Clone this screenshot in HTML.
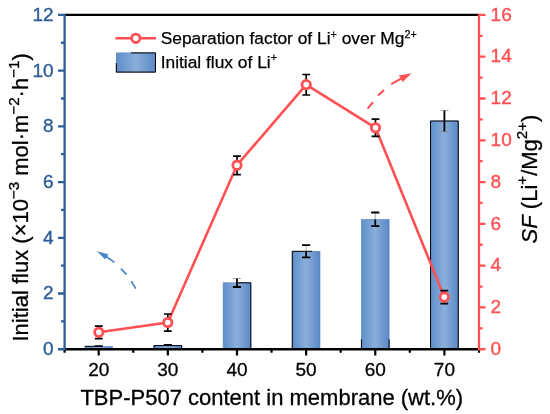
<!DOCTYPE html><html><head><meta charset="utf-8"><title>chart</title><style>html,body{margin:0;padding:0;background:#fff}svg{display:block}text{font-family:"Liberation Sans",Arial,sans-serif}</style></head><body>
<svg width="550" height="414" viewBox="0 0 550 414">
<defs><linearGradient id="g" x1="0" x2="1" y1="0" y2="0"><stop offset="0" stop-color="#5e8fca"/><stop offset="0.5" stop-color="#8aaed9"/><stop offset="1" stop-color="#5a89c6"/></linearGradient></defs>
<rect width="550" height="414" fill="#fff"/>
<rect x="84.85" y="346.60" width="27.7" height="2.65" fill="url(#g)" stroke="#4f7fbd" stroke-width="0.6"/>
<rect x="153.99" y="345.60" width="27.7" height="3.65" fill="url(#g)" stroke="#4f7fbd" stroke-width="0.6"/>
<rect x="223.13" y="282.80" width="27.7" height="66.45" fill="url(#g)" stroke="#4f7fbd" stroke-width="0.6"/>
<rect x="292.27" y="251.30" width="27.7" height="97.95" fill="url(#g)" stroke="#4f7fbd" stroke-width="0.6"/>
<rect x="361.41" y="219.50" width="27.7" height="129.75" fill="url(#g)" stroke="#4f7fbd" stroke-width="0.6"/>
<rect x="430.55" y="121.00" width="27.7" height="228.25" fill="url(#g)" stroke="#4f7fbd" stroke-width="0.6"/>
<path d="M84.85 346.3H94.70M153.99 349.25V345.6H181.69V349.25M237.98 282.8H250.83V349.25M292.27 349.25V251.3H312.12M389.11 349.25v-10M361.41 349.25v-10M430.55 349.25V121.0H458.25V349.25" stroke="#000" stroke-width="1" fill="none"/>
<path d="M232.88 278.50h8.2M306.12 245.2V251.3M375.26 212.5V219.5M440.30 110.40h8.2M440.30 131.50h8.2" stroke="#8a8a8a" stroke-width="0.7" fill="none"/>
<path d="M94.60 346.20h8.2M163.74 345.00h8.2M236.98 278.5V287M232.88 287.00h8.2M302.02 245.20h8.2M306.12 251.3V257.4M302.02 257.40h8.2M371.16 212.50h8.2M375.26 219.5V226.2M371.16 226.20h8.2M444.40 110.4V131.5" stroke="#000" stroke-width="1.8" fill="none"/>
<path d="M64.60 14.90H479.00M64.60 349.25H479.00" stroke="#000" stroke-width="2.3"/>
<path d="M98.70 349.25v6.3M167.84 349.25v6.3M236.98 349.25v6.3M306.12 349.25v6.3M375.26 349.25v6.3M444.40 349.25v6.3M133.27 349.25v3.4M202.41 349.25v3.4M271.55 349.25v3.4M340.69 349.25v3.4M409.83 349.25v3.4M64.60 349.25v3.4M479.00 349.25v3.4" stroke="#000" stroke-width="2.2" fill="none"/>
<path d="M64.60 13.75V350.40M64.60 349.25h-6.6M64.60 293.52h-6.6M64.60 237.80h-6.6M64.60 182.07h-6.6M64.60 126.35h-6.6M64.60 70.62h-6.6M64.60 14.90h-6.6M64.60 321.39h-3.6M64.60 265.66h-3.6M64.60 209.94h-3.6M64.60 154.21h-3.6M64.60 98.49h-3.6M64.60 42.76h-3.6" stroke="#2f5f97" stroke-width="2.3" fill="none"/>
<path d="M479.00 13.75V350.40M479.00 349.25h6.5M479.00 307.46h6.5M479.00 265.66h6.5M479.00 223.87h6.5M479.00 182.07h6.5M479.00 140.28h6.5M479.00 98.49h6.5M479.00 56.69h6.5M479.00 14.90h6.5M479.00 328.35h3.6M479.00 286.56h3.6M479.00 244.77h3.6M479.00 202.97h3.6M479.00 161.18h3.6M479.00 119.38h3.6M479.00 77.59h3.6M479.00 35.80h3.6" stroke="#ff5053" stroke-width="2.3" fill="none"/>
<text x="53.6" y="355.15" font-size="19" fill="#2f5f97" stroke="#2f5f97" stroke-width="0.4" text-anchor="end">0</text>
<text x="53.6" y="299.42" font-size="19" fill="#2f5f97" stroke="#2f5f97" stroke-width="0.4" text-anchor="end">2</text>
<text x="53.6" y="243.70" font-size="19" fill="#2f5f97" stroke="#2f5f97" stroke-width="0.4" text-anchor="end">4</text>
<text x="53.6" y="187.97" font-size="19" fill="#2f5f97" stroke="#2f5f97" stroke-width="0.4" text-anchor="end">6</text>
<text x="53.6" y="132.25" font-size="19" fill="#2f5f97" stroke="#2f5f97" stroke-width="0.4" text-anchor="end">8</text>
<text x="53.6" y="76.52" font-size="19" fill="#2f5f97" stroke="#2f5f97" stroke-width="0.4" text-anchor="end">10</text>
<text x="53.6" y="20.80" font-size="19" fill="#2f5f97" stroke="#2f5f97" stroke-width="0.4" text-anchor="end">12</text>
<text x="490.6" y="355.05" font-size="19" fill="#ff5053" stroke="#ff5053" stroke-width="0.4">0</text>
<text x="490.6" y="313.26" font-size="19" fill="#ff5053" stroke="#ff5053" stroke-width="0.4">2</text>
<text x="490.6" y="271.46" font-size="19" fill="#ff5053" stroke="#ff5053" stroke-width="0.4">4</text>
<text x="490.6" y="229.67" font-size="19" fill="#ff5053" stroke="#ff5053" stroke-width="0.4">6</text>
<text x="490.6" y="187.88" font-size="19" fill="#ff5053" stroke="#ff5053" stroke-width="0.4">8</text>
<text x="490.6" y="146.08" font-size="19" fill="#ff5053" stroke="#ff5053" stroke-width="0.4">10</text>
<text x="490.6" y="104.29" font-size="19" fill="#ff5053" stroke="#ff5053" stroke-width="0.4">12</text>
<text x="490.6" y="62.49" font-size="19" fill="#ff5053" stroke="#ff5053" stroke-width="0.4">14</text>
<text x="490.6" y="20.70" font-size="19" fill="#ff5053" stroke="#ff5053" stroke-width="0.4">16</text>
<text x="98.70" y="375.8" font-size="19" fill="#000" stroke="#000" stroke-width="0.3" text-anchor="middle">20</text>
<text x="167.84" y="375.8" font-size="19" fill="#000" stroke="#000" stroke-width="0.3" text-anchor="middle">30</text>
<text x="236.98" y="375.8" font-size="19" fill="#000" stroke="#000" stroke-width="0.3" text-anchor="middle">40</text>
<text x="306.12" y="375.8" font-size="19" fill="#000" stroke="#000" stroke-width="0.3" text-anchor="middle">50</text>
<text x="375.26" y="375.8" font-size="19" fill="#000" stroke="#000" stroke-width="0.3" text-anchor="middle">60</text>
<text x="444.40" y="375.8" font-size="19" fill="#000" stroke="#000" stroke-width="0.3" text-anchor="middle">70</text>
<text x="80.4" y="404.5" font-size="22" fill="#000" stroke="#000" stroke-width="0.3">TBP-P507 content in membrane (wt.%)</text>
<text transform="translate(28.2 197.4) rotate(-90)" font-size="22" text-anchor="middle" fill="#000" stroke="#000" stroke-width="0.3">Initial flux (×10<tspan font-size="15.1" dy="-9.7">−3</tspan><tspan dy="9.7"> mol·m</tspan><tspan font-size="15.1" dy="-9.7">−2</tspan><tspan dy="9.7">·h</tspan><tspan font-size="15.1" dy="-9.7">−1</tspan><tspan dy="9.7">)</tspan></text>
<text transform="translate(536.5 179) rotate(-90)" font-size="22" text-anchor="middle" fill="#000" stroke="#000" stroke-width="0.3"><tspan font-style="italic">SF</tspan> (Li<tspan font-size="15.1" dy="-9.7">+</tspan><tspan dy="9.7">/Mg</tspan><tspan font-size="15.1" dy="-9.7">2+</tspan><tspan dy="9.7">)</tspan></text>
<polyline points="98.80,332.30 167.80,322.50 237.00,165.20 306.20,84.60 375.50,127.80 444.30,297.10" fill="none" stroke="#ff5053" stroke-width="2.6" stroke-linejoin="round"/>
<path d="M98.80 326.10V338.70M94.90 326.10h7.8M94.90 338.70h7.8M167.80 314.00V331.10M163.90 314.00h7.8M163.90 331.10h7.8M237.00 156.20V174.60M233.10 156.20h7.8M233.10 174.60h7.8M306.20 74.50V95.00M302.30 74.50h7.8M302.30 95.00h7.8M375.50 119.20V136.40M371.60 119.20h7.8M371.60 136.40h7.8M444.30 290.60V303.60M440.40 290.60h7.8M440.40 303.60h7.8" stroke="#000" stroke-width="1.7" fill="none"/>
<circle cx="98.80" cy="332.30" r="4.2" fill="#fff" stroke="#ff5053" stroke-width="2.8"/>
<circle cx="167.80" cy="322.50" r="4.2" fill="#fff" stroke="#ff5053" stroke-width="2.8"/>
<circle cx="237.00" cy="165.20" r="4.2" fill="#fff" stroke="#ff5053" stroke-width="2.8"/>
<circle cx="306.20" cy="84.60" r="4.2" fill="#fff" stroke="#ff5053" stroke-width="2.8"/>
<circle cx="375.50" cy="127.80" r="4.2" fill="#fff" stroke="#ff5053" stroke-width="2.8"/>
<circle cx="444.30" cy="297.10" r="4.2" fill="#fff" stroke="#ff5053" stroke-width="2.8"/>
<path d="M115.4 38.3H156.1" stroke="#ff5053" stroke-width="2.5"/>
<circle cx="135.8" cy="38.3" r="4.2" fill="#fff" stroke="#ff5053" stroke-width="2.8"/>
<rect x="116.3" y="52.9" width="39.2" height="19.2" fill="url(#g)" stroke="#4f7fbd" stroke-width="0.6"/>
<path d="M116.3 63V72.1H155.5V52.9H131" fill="none" stroke="#000" stroke-width="1"/>
<text x="160.7" y="44.4" font-size="17.38" fill="#000" stroke="#000" stroke-width="0.25">Separation factor of Li<tspan font-size="10.8" dy="-6.8">+</tspan><tspan dy="6.8"> over Mg</tspan><tspan font-size="10.8" dy="-6.8">2+</tspan></text>
<text x="160.7" y="67.6" font-size="17.38" fill="#000" stroke="#000" stroke-width="0.25">Initial flux of Li<tspan font-size="10.8" dy="-6.8">+</tspan></text>
<path d="M367.6 108.6L373.1 102.1M378 95.5L384 90.1M391.1 84.1L401 78.6" fill="none" stroke="#ff5053" stroke-width="2.1"/>
<path d="M411.6 73.3L398.9 75.6L402.6 82.1Z" fill="#ff5053"/>
<path d="M135.8 288.6L131.3 281.3M126.6 274.7L120.9 268.7M114.4 262.4L106 256.3" fill="none" stroke="#4a86c8" stroke-width="1.7"/>
<path d="M96.8 251.2L108.4 254.2L105.2 259.4Z" fill="#4a86c8"/>
</svg></body></html>
